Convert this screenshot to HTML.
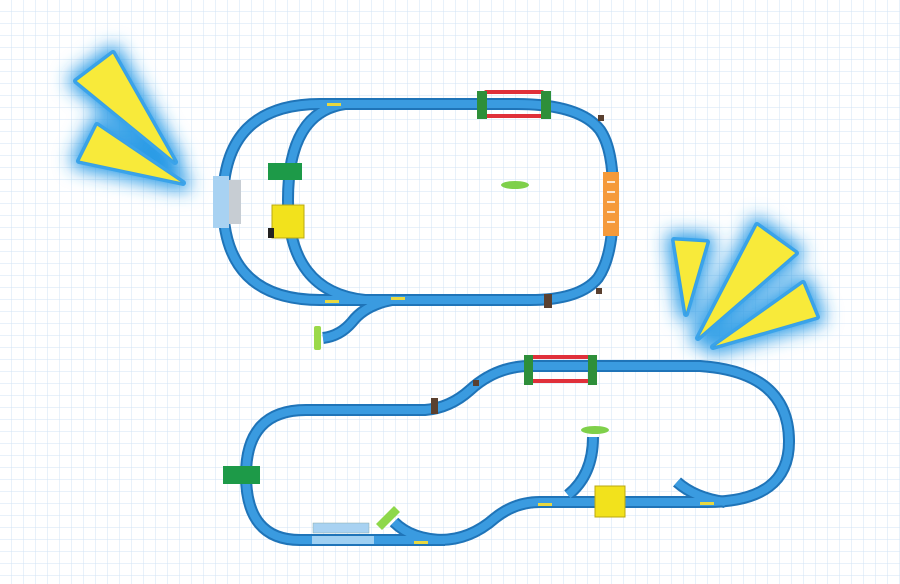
<!DOCTYPE html>
<html><head><meta charset="utf-8"><style>
html,body{margin:0;padding:0;background:#fff}
svg{display:block}
</style></head><body>
<svg width="900" height="584" viewBox="0 0 900 584" xmlns="http://www.w3.org/2000/svg">
<defs>
<pattern id="g" width="12" height="12" patternUnits="userSpaceOnUse">
<path d="M12 0V12M0 12H12" stroke="#d2e3f4" stroke-width="1" fill="none"/>
</pattern>
<filter id="glow" x="-60%" y="-60%" width="220%" height="220%">
<feGaussianBlur stdDeviation="9"/>
</filter>
</defs>
<rect width="900" height="584" fill="#fff"/>
<rect width="900" height="584" fill="url(#g)"/>

<!-- triangles with glow -->
<g fill="#2a9be6" stroke="#2a9be6" stroke-width="16" stroke-linejoin="round" filter="url(#glow)">
<polygon points="113,53 76,81 175,162"/><polygon points="97,125 79,161 183,183"/>
<polygon points="674,240 707,242 686,314"/><polygon points="757,225 796,253 698,338"/><polygon points="803,283 817,317 713,347"/>
</g>
<g fill="#3aa3ea" stroke="#3aa3ea" stroke-width="6" stroke-linejoin="round">
<polygon points="113,53 76,81 175,162"/><polygon points="97,125 79,161 183,183"/>
<polygon points="674,240 707,242 686,314"/><polygon points="757,225 796,253 698,338"/><polygon points="803,283 817,317 713,347"/>
</g>
<g fill="#f8ea3a" stroke="#3aa0e0" stroke-width="1">
<polygon points="113,53 76,81 175,162"/><polygon points="97,125 79,161 183,183"/>
<polygon points="674,240 707,242 686,314"/><polygon points="757,225 796,253 698,338"/><polygon points="803,283 817,317 713,347"/>
</g>

<!-- top layout tracks -->
<g fill="none" stroke-linecap="butt">
<g stroke="#1f74b8" stroke-width="12">
<path d="M320,104 H516 Q580,104 600,130 Q614,150 613,200 Q614,255 598,278 Q580,300 530,300 H320 Q223,300 223,202 Q223,104 320,104 Z"/>
<path d="M345,104 Q288,112 288,200 Q288,292 365,300"/>
<path d="M392,300 Q365,305 352,322 Q340,336 323,338"/>
</g>
<g stroke="#3a9be0" stroke-width="8">
<path d="M320,104 H516 Q580,104 600,130 Q614,150 613,200 Q614,255 598,278 Q580,300 530,300 H320 Q223,300 223,202 Q223,104 320,104 Z"/>
<path d="M345,104 Q288,112 288,200 Q288,292 365,300"/>
<path d="M392,300 Q365,305 352,322 Q340,336 323,338"/>
</g>
</g>
<!-- top bridge -->
<rect x="484" y="90" width="60" height="4" rx="2" fill="#e0303a"/>
<rect x="484" y="114" width="60" height="4" rx="2" fill="#e0303a"/>
<rect x="477" y="91" width="10" height="28" fill="#2e8f3a"/>
<rect x="541" y="91" width="10" height="28" fill="#2e8f3a"/>
<!-- orange ladder -->
<rect x="603" y="172" width="16" height="64" fill="#f59a3a"/>
<g stroke="#fff" stroke-width="1.5"><path d="M607 182H615M607 192H615M607 202H615M607 212H615M607 222H615"/></g>
<!-- station left -->
<rect x="213" y="176" width="16" height="52" fill="#a8d2f2"/>
<rect x="229" y="180" width="12" height="44" fill="#c7cdd3"/>
<!-- green / yellow boxes -->
<rect x="268" y="163" width="34" height="17" fill="#1d9a48"/>
<rect x="272" y="205" width="32" height="33" fill="#f2e21c" stroke="#b9a810" stroke-width="1"/>
<rect x="268" y="228" width="6" height="10" fill="#222"/>
<ellipse cx="515" cy="185" rx="14" ry="4" fill="#7fd04a"/>
<rect x="314" y="326" width="7" height="24" rx="2" fill="#9ad94a"/>
<!-- small brackets -->
<g fill="#5a4030"><rect x="598" y="115" width="6" height="6"/><rect x="596" y="288" width="6" height="6"/><rect x="544" y="294" width="8" height="14"/></g>
<g fill="#e8d840"><rect x="327" y="103" width="14" height="3"/><rect x="325" y="300" width="14" height="3"/><rect x="391" y="297" width="14" height="3"/></g>

<!-- bottom layout tracks -->
<g fill="none">
<g stroke="#1f74b8" stroke-width="12">
<path d="M306,410 H425 Q450,408 470,390 Q495,367 528,366 H700 Q788,372 789,440 Q790,502 707,502 H540 Q515,502 495,518 Q470,540 440,540 H300 Q246,540 246,475 Q246,410 306,410 Z"/>
<path d="M568,495 Q593,475 593,437"/>
<path d="M677,482 Q695,498 725,502"/>
<path d="M394,522 Q412,540 445,540"/>
</g>
<g stroke="#3a9be0" stroke-width="8">
<path d="M306,410 H425 Q450,408 470,390 Q495,367 528,366 H700 Q788,372 789,440 Q790,502 707,502 H540 Q515,502 495,518 Q470,540 440,540 H300 Q246,540 246,475 Q246,410 306,410 Z"/>
<path d="M568,495 Q593,475 593,437"/>
<path d="M677,482 Q695,498 725,502"/>
<path d="M394,522 Q412,540 445,540"/>
</g>
</g>
<!-- bottom bridge -->
<rect x="530" y="355" width="62" height="4" rx="2" fill="#e0303a"/>
<rect x="530" y="379" width="62" height="4" rx="2" fill="#e0303a"/>
<rect x="524" y="355" width="9" height="30" fill="#2e8f3a"/>
<rect x="588" y="355" width="9" height="30" fill="#2e8f3a"/>
<!-- station bottom -->
<rect x="313" y="523" width="56" height="10" fill="#a8d2f2" stroke="#8aa" stroke-width="0.5"/>
<rect x="312" y="536" width="62" height="8" fill="#9fd0f2"/>
<rect x="223" y="466" width="37" height="18" fill="#1d9a48"/>
<rect x="595" y="486" width="30" height="31" fill="#f2e21c" stroke="#b9a810" stroke-width="1"/>
<ellipse cx="595" cy="430" rx="14" ry="4" fill="#7fd04a"/>
<polygon points="376,524 394,506 400,512 382,530" fill="#8ed84a"/>
<g fill="#5a4030"><rect x="431" y="398" width="7" height="16"/><rect x="473" y="380" width="6" height="6"/></g>
<g fill="#e8d840"><rect x="538" y="503" width="14" height="3"/><rect x="700" y="502" width="14" height="3"/><rect x="414" y="541" width="14" height="3"/></g>
</svg>
</body></html>
